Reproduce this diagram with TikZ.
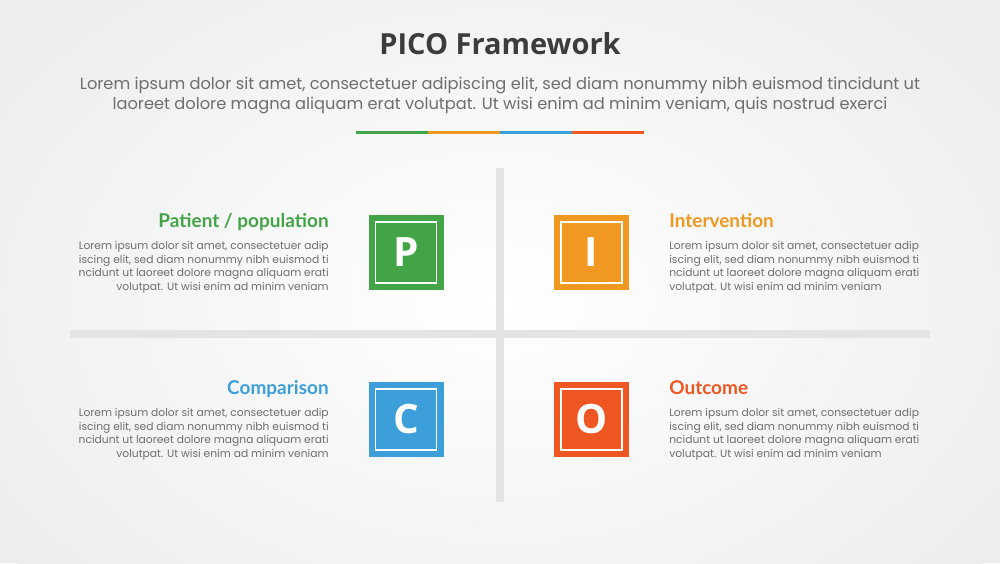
\documentclass[tikz,border=0pt]{standalone}
\usepackage{fontspec}
\setmainfont{Poppins}
\newfontfamily\titlefont{Open Sans}
\newfontfamily\headfont{Lato}
\definecolor{bgout}{HTML}{ECEDEE}
\definecolor{crossgray}{HTML}{E2E4E5}
\definecolor{titlegray}{HTML}{3C3C3C}
\definecolor{textgray}{HTML}{6E6E6E}
\definecolor{pgreen}{HTML}{43A447}
\definecolor{iorange}{HTML}{F0981F}
\definecolor{cblue}{HTML}{3D9FD9}
\definecolor{ored}{HTML}{EF5722}
\begin{document}
\begin{tikzpicture}[x=0.2mm,y=-0.2mm,
    letterbox/.style={minimum size=15mm,inner sep=0pt,fill=#1,text=white,
      font=\titlefont\bfseries\fontsize{23}{23}\selectfont,
      path picture={\draw[white,line width=0.3mm]
        ([shift={(1.4mm,-1.4mm)}]path picture bounding box.north west) rectangle
        ([shift={(-1.4mm,1.4mm)}]path picture bounding box.south east);}},
    headline/.style={inner sep=0pt,text=#1,font=\headfont\bfseries\fontsize{10.8}{12}\selectfont},
    bodytext/.style={inner sep=0pt,text=textgray,font=\fontsize{6.1}{7.75}\selectfont},
  ]
  \useasboundingbox (0,0) rectangle (1000,563);
  \fill[bgout] (0,0) rectangle (1000,563);
  \shade[inner color=white,outer color=bgout] (500,300) ellipse (620 and 420);

  \node[inner sep=0pt,anchor=base,text=titlegray,font=\titlefont\bfseries\fontsize{16.5}{18}\selectfont] (title) at (500,54) {PICO Framework};
  \node[inner sep=0pt,anchor=north,align=center,text=textgray,font=\fontsize{9.25}{11.3}\selectfont] (subtitle) at (500,77)
    {Lorem ipsum dolor sit amet, consectetuer adipiscing elit, sed diam nonummy nibh euismod tincidunt ut\\
     laoreet dolore magna aliquam erat volutpat. Ut wisi enim ad minim veniam, quis nostrud exerci};

  \foreach \c [count=\i from 0] in {pgreen,iorange,cblue,ored}
    \fill[\c] ({356+72*\i},131) rectangle ({428+72*\i},134);

  \fill[crossgray] (496,168) rectangle (504,502);
  \fill[crossgray] (70,330) rectangle (930,338);

  \node[letterbox=pgreen] (boxP) at (406,252.5) {P};
  \node[letterbox=iorange] (boxI) at (591.5,252.5) {I};
  \node[letterbox=cblue] (boxC) at (406,419.5) {C};
  \node[letterbox=ored] (boxO) at (591.5,419.5) {O};

  \node[headline=pgreen,anchor=base east] (headP) at (329,227) {Patient / population};
  \node[headline=iorange,anchor=base west] (headI) at (669,227) {Intervention};
  \node[headline=cblue,anchor=base east] (headC) at (329,394) {Comparison};
  \node[headline=ored,anchor=base west] (headO) at (669,394) {Outcome};

  \node[bodytext,anchor=north east,align=right] (textP) at (329,241)
    {Lorem ipsum dolor sit amet, consectetuer adip\\ iscing elit, sed diam nonummy nibh euismod ti\\
     ncidunt ut laoreet dolore magna aliquam erati\\ volutpat. Ut wisi enim ad minim veniam};
  \node[bodytext,anchor=north west,align=left] (textI) at (669,241)
    {Lorem ipsum dolor sit amet, consectetuer adip\\ iscing elit, sed diam nonummy nibh euismod ti\\
     ncidunt ut laoreet dolore magna aliquam erati\\ volutpat. Ut wisi enim ad minim veniam};
  \node[bodytext,anchor=north east,align=right] (textC) at (329,408)
    {Lorem ipsum dolor sit amet, consectetuer adip\\ iscing elit, sed diam nonummy nibh euismod ti\\
     ncidunt ut laoreet dolore magna aliquam erati\\ volutpat. Ut wisi enim ad minim veniam};
  \node[bodytext,anchor=north west,align=left] (textO) at (669,408)
    {Lorem ipsum dolor sit amet, consectetuer adip\\ iscing elit, sed diam nonummy nibh euismod ti\\
     ncidunt ut laoreet dolore magna aliquam erati\\ volutpat. Ut wisi enim ad minim veniam};
\end{tikzpicture}
\end{document}
